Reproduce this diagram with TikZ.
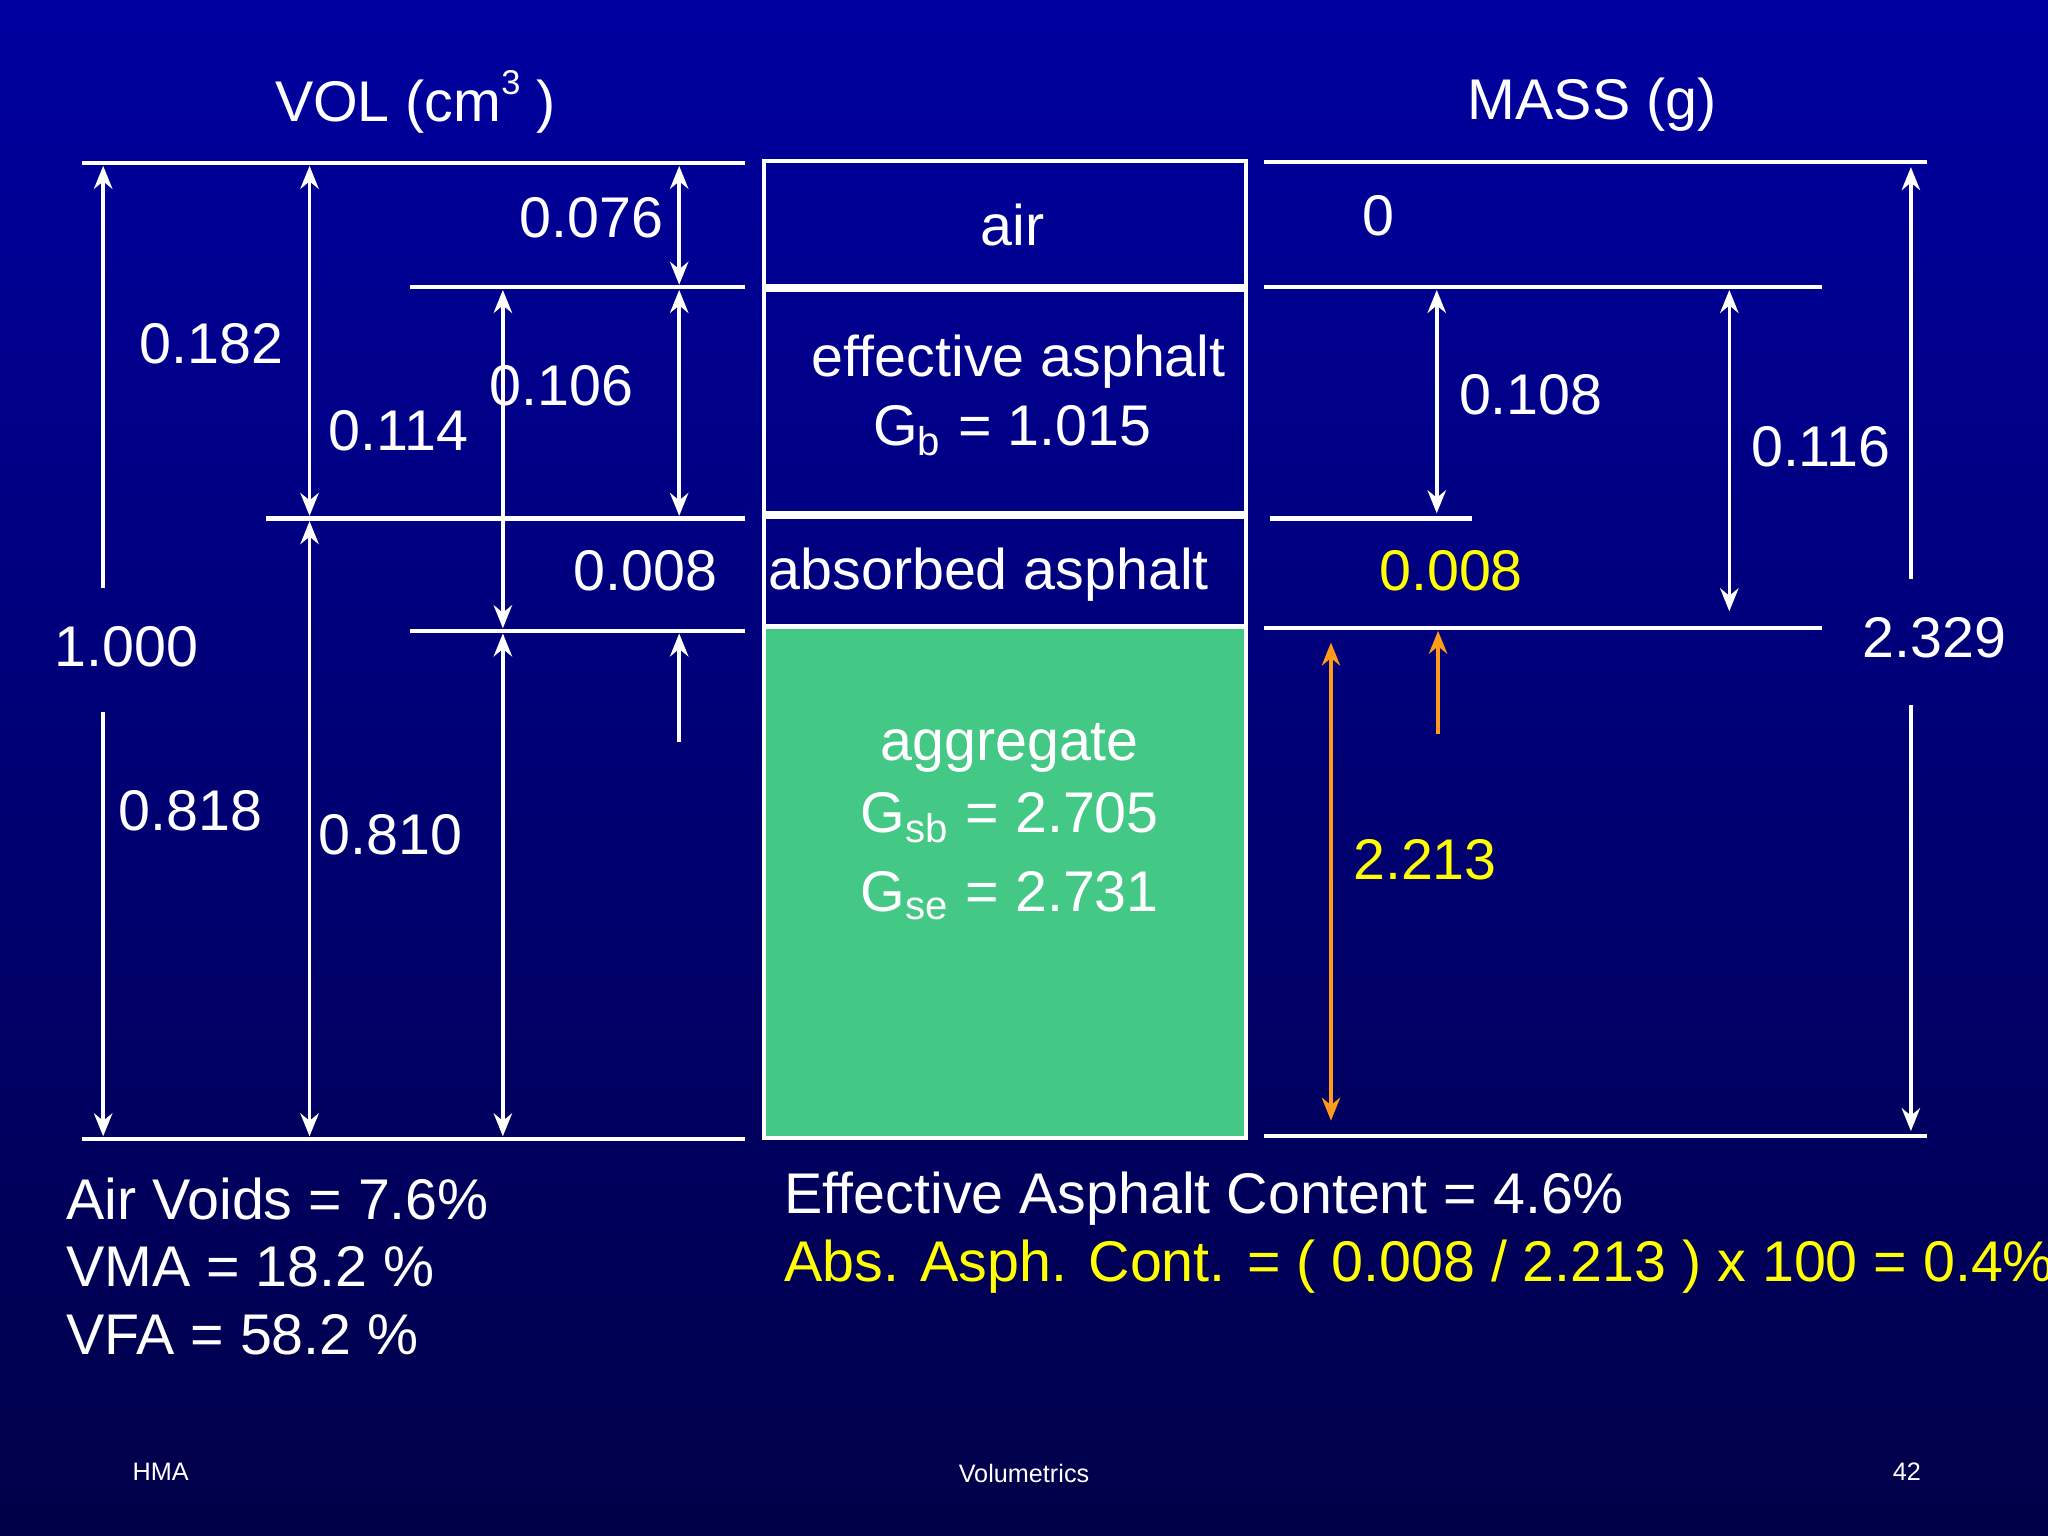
\documentclass[tikz,border=0pt]{standalone}
\usepackage{fontspec}
\setmainfont{Liberation Sans}
\usetikzlibrary{arrows.meta}
\definecolor{bgtop}{HTML}{0000A0}
\definecolor{bgbot}{HTML}{000048}
\definecolor{agg}{HTML}{44C886}
\definecolor{yel}{HTML}{FFFF00}
\definecolor{org}{HTML}{FF9A1A}
\begin{document}
\begin{tikzpicture}[x=1cm,y=-1cm,
  ln/.style={white,line width=0.9pt},
  dim/.style={white,line width=0.8pt,{Stealth[length=5pt,width=4pt]}-{Stealth[length=5pt,width=4pt]}},
  up/.style={white,line width=0.8pt,-{Stealth[length=5pt,width=4pt]}},
  odim/.style={org,line width=0.8pt,{Stealth[length=5pt,width=4pt]}-{Stealth[length=5pt,width=4pt]}},
  oup/.style={org,line width=0.8pt,-{Stealth[length=5pt,width=4pt]}},
  lbl/.style={white,font=\fontsize{12.5}{14}\selectfont,inner sep=0pt},
  ylbl/.style={lbl,yel},
  box/.style={draw=white,line width=0.9pt},
  foot/.style={white,font=\fontsize{5.5}{7}\selectfont,inner sep=0pt}]
\shade[top color=bgtop,bottom color=bgbot] (0,0) rectangle (15.68,11.76);
\useasboundingbox (0,0) rectangle (15.68,11.76);
% left lines
\draw[ln] (0.63,1.25) -- (5.70,1.25);
\draw[ln] (3.14,2.20) -- (5.70,2.20);
\draw[ln] (2.04,3.97) -- (5.70,3.97);
\draw[ln] (3.14,4.83) -- (5.70,4.83);
\draw[ln] (0.63,8.72) -- (5.70,8.72);
\coordinate (a1) at (0.79,1.27); \coordinate (a2) at (0.79,4.50);
\coordinate (a3) at (0.79,5.45); \coordinate (a4) at (0.79,8.70);
\draw[up] (a2) -- (a1); \draw[up] (a3) -- (a4);
\draw[dim] (2.37,1.27) -- (2.37,3.95);
\draw[dim] (2.37,3.99) -- (2.37,8.70);
\draw[dim] (3.85,2.22) -- (3.85,4.81);
\draw[dim] (3.85,4.85) -- (3.85,8.70);
\draw[dim] (5.20,1.27) -- (5.20,2.18);
\draw[dim] (5.20,2.22) -- (5.20,3.95);
\draw[up] (5.20,5.68) -- (5.20,4.85);
\node[lbl] (v076) at (4.53,1.67) {0.076};
\node[lbl] (v182) at (1.62,2.63) {0.182};
\node[lbl] (v114) at (3.05,3.30) {0.114};
\node[lbl] (v106) at (4.30,2.95) {0.106};
\node[lbl] (v008) at (4.94,4.37) {0.008};
\node[lbl] (v1000) at (0.97,4.95) {1.000};
\node[lbl] (v818) at (1.46,6.21) {0.818};
\node[lbl] (v810) at (2.99,6.39) {0.810};
\node[lbl] (vol) at (3.18,0.78) {VOL (cm\raisebox{0.9ex}{\fontsize{7.5}{8}\selectfont 3} )};
% boxes
\draw[box] (5.85,1.23) rectangle (9.54,2.19);
\draw[box] (5.85,2.22) rectangle (9.54,3.93);
\draw[box] (5.85,3.96) rectangle (9.54,4.79);
\draw[box,fill=agg] (5.85,4.80) rectangle (9.54,8.71);
\node[lbl] (air) at (7.75,1.72) {air};
\node[lbl] (ea) at (7.80,2.77) {effective asphalt};
\node[lbl] (gb) at (7.75,3.30) {G\textsubscript{b} = 1.015};
\node[lbl] (aa) at (7.57,4.40) {absorbed asphalt};
\node[lbl] (ag) at (7.73,5.73) {aggregate};
\node[lbl] (gsb) at (7.73,6.26) {G\textsubscript{sb} = 2.705};
\node[lbl] (gse) at (7.73,6.86) {G\textsubscript{se} = 2.731};
% right
\draw[ln] (9.68,1.24) -- (14.75,1.24);
\draw[ln] (9.68,2.20) -- (13.95,2.20);
\draw[ln] (9.72,3.97) -- (11.27,3.97);
\draw[ln] (9.68,4.81) -- (13.95,4.81);
\draw[ln] (9.68,8.70) -- (14.75,8.70);
\draw[dim] (11.00,2.22) -- (11.00,3.93);
\draw[dim] (13.24,2.22) -- (13.24,4.68);
\draw[up] (14.63,4.43) -- (14.63,1.28);
\draw[up] (14.63,5.40) -- (14.63,8.66);
\draw[odim] (10.19,4.92) -- (10.19,8.58);
\draw[oup] (11.01,5.62) -- (11.01,4.83);
\node[lbl] (m0) at (10.55,1.65) {0};
\node[lbl] (m108) at (11.72,3.02) {0.108};
\node[lbl] (m116) at (13.94,3.42) {0.116};
\node[ylbl] (m008) at (11.11,4.37) {0.008};
\node[lbl] (m2329) at (14.81,4.88) {2.329};
\node[ylbl] (m2213) at (10.91,6.58) {2.213};
\node[lbl] (mass) at (12.19,0.80) {MASS (g)};
% bottom text
\node[lbl,anchor=west] (t1) at (0.50,9.18) {Air Voids = 7.6\%};
\node[lbl,anchor=west] (t2) at (0.50,9.70) {VMA = 18.2 \%};
\node[lbl,anchor=west] (t3) at (0.50,10.22) {VFA = 58.2 \%};
\node[lbl,anchor=west] (t4) at (6.00,9.18) {Effective Asphalt Content = 4.6\%};
\node[ylbl,anchor=west] (t5) at (6.00,9.70) {Abs. Asph. Cont. = ( 0.008 / 2.213 ) x 100 = 0.4\%};
\node[foot] (f1) at (1.23,11.27) {HMA};
\node[foot] (f2) at (7.84,11.28) {Volumetrics};
\node[foot] (f3) at (14.60,11.27) {42};
\end{tikzpicture}
\end{document}
